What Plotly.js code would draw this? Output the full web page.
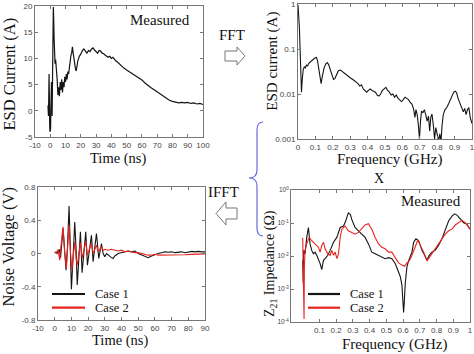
<!DOCTYPE html>
<html><head><meta charset="utf-8">
<script src="https://cdn.plot.ly/plotly-3.0.1.min.js"></script>
<style>html,body{margin:0;padding:0;background:#fff}#chart{width:474px;height:354px}</style>
</head><body><div id="chart"></div>
<script>
// ---- Data ----
// Top-left: measured ESD current (A) vs time (ns)
const esdTime = [-1.5,-1.2,-1.0,-0.8,-0.6,-0.4,-0.2,0,0.2,0.4,0.6,0.8,1.0,1.2,1.4,1.6,1.8,2.0,2.2,2.5,2.8,3.1,3.5,4.0,4.5,5.0,5.5,6.0,6.5,7.0,7.5,8,8.5,9,9.5,10,10.5,11,11.5,12,12.5,13,13.5,14,14.5,15,15.5,16,16.5,17,17.5,18,19,20,21,22,23,24,25,26,27,28,29,30,31,32,33,34,35,36,37,38,39,40,41,42,43,44,45,46,48,50,52,54,56,58,60,62,64,66,68,70,72,74,76,78,80,82,84,86,88,90,92,94,96,98,100];
const esdCurrent = [1.0,-1.0,2.5,7.0,3.0,-2.5,-4.0,-3.0,-3.5,0.5,3.5,5.5,2.0,-1.0,4.0,11.0,17.0,19.8,18.0,14.0,10.5,9.0,9.8,8.5,6.0,3.0,4.5,2.8,5.5,4.0,6.0,3.5,5.5,4.5,6.5,5.5,7.0,6.0,7.5,7.0,8.5,9.5,10.5,11.0,12.2,11.0,9.8,8.8,8.0,7.6,8.5,9.5,10.4,10.8,11.5,11.8,11.4,11.0,11.5,11.3,11.8,12.0,11.6,11.3,11.0,11.5,11.4,11.0,10.9,10.6,10.3,10.2,10.4,10.0,10.2,9.8,9.5,9.3,9.0,8.6,8.2,7.8,7.4,7.0,6.7,6.3,5.9,5.3,4.8,4.4,4.0,3.6,3.2,2.8,2.4,2.0,1.8,1.6,1.5,1.6,1.5,1.6,1.4,1.5,1.3,1.4,1.2];

// Top-right: ESD current spectrum (A) vs frequency (GHz)
const fftFreq = [0.000,0.004,0.008,0.012,0.016,0.020,0.024,0.030,0.036,0.042,0.048,0.055,0.062,0.070,0.080,0.090,0.100,0.106,0.112,0.120,0.126,0.133,0.140,0.150,0.160,0.168,0.176,0.186,0.196,0.204,0.212,0.222,0.232,0.244,0.256,0.270,0.285,0.300,0.315,0.330,0.345,0.355,0.365,0.375,0.385,0.395,0.405,0.415,0.425,0.435,0.445,0.455,0.465,0.475,0.485,0.495,0.505,0.515,0.525,0.535,0.545,0.555,0.565,0.575,0.585,0.595,0.605,0.615,0.625,0.635,0.645,0.655,0.665,0.672,0.678,0.685,0.692,0.698,0.704,0.710,0.718,0.726,0.734,0.742,0.750,0.757,0.763,0.770,0.778,0.785,0.792,0.800,0.808,0.815,0.822,0.828,0.835,0.845,0.855,0.865,0.875,0.885,0.895,0.905,0.912,0.920,0.930,0.940,0.950,0.958,0.966,0.974,0.982,0.990,1.000];
const fftCurrent = [0.95,0.6,0.3,0.1,0.03,0.011,0.02,0.035,0.040,0.038,0.044,0.042,0.048,0.052,0.055,0.060,0.064,0.065,0.055,0.035,0.024,0.017,0.025,0.038,0.047,0.050,0.045,0.035,0.027,0.021,0.022,0.028,0.033,0.034,0.031,0.028,0.026,0.023,0.021,0.019,0.017,0.015,0.016,0.013,0.012,0.011,0.012,0.013,0.012,0.0115,0.011,0.0095,0.009,0.010,0.012,0.013,0.014,0.012,0.011,0.0095,0.010,0.0085,0.0095,0.008,0.0072,0.0068,0.0075,0.0085,0.008,0.0075,0.0065,0.006,0.0045,0.003,0.0045,0.0035,0.002,0.001,0.0025,0.0042,0.0038,0.0045,0.0035,0.0025,0.0032,0.0015,0.003,0.0036,0.002,0.001,0.0018,0.0012,0.0009,0.0013,0.0009,0.002,0.0035,0.0045,0.005,0.006,0.0075,0.0095,0.011,0.0115,0.0105,0.008,0.0062,0.0052,0.004,0.0048,0.0035,0.0045,0.005,0.003,0.0022];

// Bottom-left: noise voltage (V) vs time (ns)
const noiseTime1 = [0,1,2,2.8,3.5,4.2,5.0,5.9,6.8,7.7,8.6,9.3,10.0,11.0,12.0,12.8,13.5,14.5,15.4,16.4,17.5,18.6,19.6,20.8,22.0,23.0,24.0,25.0,26.4,27.2,28.0,29.0,30.0,31,32,33,34,35,36,38,40,42,44,46,48,50,52,54,56,58,60,62,64,66,68,70,72,74,76,78,80,82,84,86,88,90];
const noiseCase1 = [0.01,0.02,0.0,0.05,-0.05,0.1,0.30,0.05,-0.2,0.1,0.57,0.1,-0.43,-0.05,0.38,0.05,-0.38,-0.05,0.26,-0.23,0.0,0.26,-0.14,0.02,0.22,-0.10,0.05,0.24,-0.06,0.02,0.12,0.0,-0.04,0.0,-0.02,-0.03,-0.05,-0.06,-0.03,0.0,0.01,0.02,0.03,0.02,0.03,0.0,-0.02,-0.04,-0.05,-0.03,-0.01,0.0,0.01,0.02,0.015,0.02,0.01,0.015,0.02,0.01,0.02,0.025,0.02,0.025,0.02,0.02];
const noiseTime2 = [0,1,2,3,3.8,5.0,6.0,7.0,7.8,8.6,9.5,10.3,11.2,12.0,12.8,13.5,14.5,15.4,16.5,17.5,18.6,19.6,20.8,22.0,23.0,24.0,25.0,26.0,27.0,28.0,29,30,32,34,36,38,40,42,44,46,48,50,52,54,56,58,60,62,64,66,68,70,74,78,82,86,90];
const noiseCase2 = [0.02,0.0,0.05,-0.08,0.1,0.32,0.0,-0.18,0.1,0.34,0.0,-0.2,0.0,0.14,-0.05,-0.14,0.0,0.13,-0.06,0.05,0.15,-0.02,0.05,0.12,0.0,0.05,0.10,0.02,0.06,0.08,0.04,0.05,0.04,0.05,0.04,0.03,0.04,0.02,0.03,0.02,0.01,0.01,0.0,-0.01,-0.02,-0.02,-0.01,-0.02,-0.02,-0.015,-0.02,-0.02,-0.02,-0.015,-0.01,-0.01,-0.005];

// Bottom-right: Z21 impedance (ohm) vs frequency (GHz)
const zFreq1 = [0.000,0.003,0.006,0.014,0.024,0.034,0.044,0.054,0.064,0.074,0.084,0.094,0.104,0.114,0.124,0.134,0.150,0.164,0.184,0.204,0.224,0.244,0.257,0.273,0.285,0.293,0.313,0.333,0.353,0.373,0.393,0.413,0.433,0.453,0.473,0.493,0.513,0.533,0.553,0.569,0.583,0.593,0.603,0.607,0.613,0.623,0.633,0.653,0.663,0.677,0.693,0.703,0.713,0.729,0.743,0.756,0.772,0.792,0.812,0.832,0.852,0.872,0.892,0.908,0.922,0.942,0.962,0.982,1.000];
const zCase1 = [0.0074,0.0015,0.0148,0.0117,0.0366,0.073,0.0233,0.0148,0.0117,0.0131,0.0105,0.0083,0.0059,0.0039,0.0074,0.0083,0.0105,0.0148,0.026,0.0366,0.073,0.081,0.115,0.203,0.181,0.129,0.073,0.058,0.046,0.0366,0.0233,0.0131,0.0117,0.0105,0.0089,0.0083,0.0089,0.0083,0.0059,0.0037,0.0024,0.00134,0.000195,0.0004,0.0015,0.0047,0.0071,0.0131,0.026,0.033,0.029,0.021,0.0148,0.0105,0.0074,0.0105,0.0131,0.0148,0.021,0.033,0.058,0.115,0.161,0.19,0.173,0.129,0.102,0.091,0.065];
const zFreq2 = [0.000,0.002,0.004,0.006,0.008,0.010,0.014,0.024,0.038,0.054,0.074,0.094,0.104,0.114,0.124,0.134,0.150,0.164,0.174,0.184,0.194,0.204,0.214,0.224,0.234,0.253,0.273,0.293,0.313,0.333,0.353,0.373,0.393,0.413,0.433,0.453,0.473,0.493,0.513,0.533,0.553,0.573,0.593,0.609,0.623,0.637,0.653,0.673,0.689,0.703,0.723,0.743,0.756,0.772,0.792,0.812,0.832,0.852,0.872,0.892,0.912,0.932,0.952,0.972,0.992,1.000];
const zCase2 = [0.036,0.0024,0.0093,0.0015,0.000123,0.0047,0.0148,0.0233,0.0366,0.029,0.0233,0.0185,0.0131,0.021,0.026,0.0165,0.0117,0.0105,0.0148,0.0105,0.0131,0.0083,0.0117,0.0366,0.065,0.081,0.058,0.052,0.046,0.052,0.069,0.087,0.095,0.065,0.0366,0.0233,0.0185,0.0165,0.0131,0.0131,0.0089,0.0062,0.0053,0.0049,0.0062,0.0071,0.0105,0.021,0.031,0.021,0.0131,0.0071,0.0089,0.0117,0.0165,0.0233,0.031,0.046,0.058,0.065,0.087,0.102,0.12,0.102,0.076,0.065];

const linTicks1X = [-10,0,10,20,30,40,50,60,70,80,90,100];
const linTicks1Y = [-5,0,5,10,15,20];
const fftTickVals = [0.001,0.01,0.1,1];
const fftTickText = ['0.001','0.01','0.1','1'];
const freqTicks = [0,0.1,0.2,0.3,0.4,0.5,0.6,0.7,0.8,0.9,1];
const freqTickText = ['0','0.1','0.2','0.3','0.4','0.5','0.6','0.7','0.8','0.9','1'];
const noiseTicksX = [-10,0,10,20,30,40,50,60,70,80,90];
const noiseTicksXText = ['-10','0','10','20','30','40','50','60','70','80','90'];
const noiseTicksY = [-0.8,-0.4,0,0.4,0.8];
const noiseTicksYText = ['-0.8','-0.4','0','0.4','0.8'];
const zTickVals = [0.0001,0.001,0.01,0.1,1];
const zTickText = ['10<sup>-4</sup>','10<sup>-3</sup>','10<sup>-2</sup>','10<sup>-1</sup>','10<sup>0</sup>'];
const zFreqTicks = [0.1,0.2,0.3,0.4,0.5,0.6,0.7,0.8,0.9,1];
const zFreqTickText = ['0.1','0.2','0.3','0.4','0.5','0.6','0.7','0.8','0.9','1'];
const caseNames = ['Case 1','Case 2'];

// ---- Layout helpers ----
const W = 474, H = 354;
const PX = x => x / W, PY = y => 1 - y / H;
const serif = 'Liberation Serif, Times New Roman, serif';
const tickFont = {family: 'Liberation Sans, Arial, sans-serif', size: 8, color: '#444'};
const BLACK = '#151515', RED = '#e8231d';

function axis(dom, extra) {
  return Object.assign({
    domain: dom, showgrid: false, zeroline: false, showline: true, linecolor: '#777', linewidth: 1,
    mirror: 'ticks', ticks: 'inside', ticklen: 3, tickcolor: '#777', tickfont: tickFont, fixedrange: true,
    ticklabeloverflow: 'allow'
  }, extra);
}

const traces = [
  {x: esdTime, y: esdCurrent, xaxis: 'x', yaxis: 'y', mode: 'lines', line: {color: BLACK, width: 1.2}, showlegend: false},
  {x: fftFreq, y: fftCurrent, xaxis: 'x2', yaxis: 'y2', mode: 'lines', line: {color: BLACK, width: 1.1}, showlegend: false},
  {x: noiseTime1, y: noiseCase1, xaxis: 'x3', yaxis: 'y3', mode: 'lines', name: caseNames[0], line: {color: BLACK, width: 1.1}, showlegend: false},
  {x: noiseTime2, y: noiseCase2, xaxis: 'x3', yaxis: 'y3', mode: 'lines', name: caseNames[1], line: {color: RED, width: 1.1}, showlegend: false},
  {x: zFreq1, y: zCase1, xaxis: 'x4', yaxis: 'y4', mode: 'lines', name: caseNames[0], line: {color: BLACK, width: 1.1}, showlegend: false},
  {x: zFreq2, y: zCase2, xaxis: 'x4', yaxis: 'y4', mode: 'lines', name: caseNames[1], line: {color: RED, width: 1.1}, showlegend: false}
];

function path(pts, close) {
  return pts.map((p, i) => (i ? 'L' : 'M') + PX(p[0]).toFixed(5) + ',' + PY(p[1]).toFixed(5)).join(' ') + (close ? ' Z' : '');
}
const fftArrow = path([[225,51],[237,51],[237,47],[245,56],[237,65],[237,61],[225,61]], true);
const ifftArrow = path([[237,208],[226,208],[226,202],[216,213.5],[226,225],[226,219],[237,219]], true);
const q = (x, y) => PX(x).toFixed(5) + ',' + PY(y).toFixed(5);
const brace = 'M' + q(263,122) + ' Q' + q(257,122) + ' ' + q(257,130) + ' L' + q(257,170) +
  ' Q' + q(257,178) + ' ' + q(249,178) + ' Q' + q(257,178) + ' ' + q(257,186) + ' L' + q(257,228) +
  ' Q' + q(257,236) + ' ' + q(263,236);

function legLine(x0, x1, y, color) {
  return {type: 'line', xref: 'paper', yref: 'paper', x0: PX(x0), x1: PX(x1), y0: PY(y), y1: PY(y), line: {color: color, width: 2.2}};
}
function ann(text, x, y, size, extra) {
  return Object.assign({text: text, xref: 'paper', yref: 'paper', x: PX(x), y: PY(y), showarrow: false,
    font: {family: serif, size: size, color: '#111'}, xanchor: 'center', yanchor: 'middle'}, extra || {});
}

const layout = {
  width: W, height: H, margin: {l: 0, r: 0, t: 0, b: 0}, paper_bgcolor: '#fff', plot_bgcolor: '#fff', showlegend: false,
  xaxis: axis([PX(35), PX(203)], {anchor: 'y', range: [-10, 100], tickvals: linTicks1X, ticktext: linTicks1X.map(String)}),
  yaxis: axis([PY(137), PY(6)], {anchor: 'x', range: [-5, 20], tickvals: linTicks1Y, ticktext: linTicks1Y.map(String)}),
  xaxis2: axis([PX(298), PX(472)], {anchor: 'y2', range: [0, 1], tickvals: freqTicks, ticktext: freqTickText}),
  yaxis2: axis([PY(139), PY(4)], {anchor: 'x2', type: 'log', range: [-3, 0], tickvals: fftTickVals, ticktext: fftTickText}),
  xaxis3: axis([PX(38), PX(205)], {anchor: 'y3', range: [-10, 90], tickvals: noiseTicksX, ticktext: noiseTicksXText}),
  yaxis3: axis([PY(320), PY(187)], {anchor: 'x3', range: [-0.8, 0.8], tickvals: noiseTicksY, ticktext: noiseTicksYText}),
  xaxis4: axis([PX(291), PX(470)], {anchor: 'y4', range: [-0.07, 1], tickvals: zFreqTicks, ticktext: zFreqTickText}),
  yaxis4: axis([PY(322), PY(190)], {anchor: 'x4', type: 'log', range: [-4, 0], tickvals: zTickVals, ticktext: zTickText,
    tickfont: {family: 'Liberation Sans, Arial, sans-serif', size: 6.5, color: '#444'}}),
  shapes: [
    {type: 'path', xref: 'paper', yref: 'paper', path: fftArrow, line: {color: '#777', width: 1}, fillcolor: '#fff'},
    {type: 'path', xref: 'paper', yref: 'paper', path: ifftArrow, line: {color: '#777', width: 1}, fillcolor: '#fff'},
    {type: 'path', xref: 'paper', yref: 'paper', path: brace, line: {color: '#6a6ae0', width: 1.2}},
    legLine(52, 85, 294, BLACK), legLine(52, 85, 307.7, RED),
    legLine(308, 340, 294, BLACK), legLine(308, 340, 307.7, RED)
  ],
  annotations: [
    ann('Measured', 160, 20, 15),
    ann('Measured', 431, 201, 15),
    ann('FFT', 232, 35, 15),
    ann('IFFT', 223, 192, 15),
    ann('X', 378.5, 178.5, 14),
    ann('ESD Current (A)', 9, 74.5, 16.5, {textangle: -90}),
    ann('Time (ns)', 118, 158, 14.5),
    ann('ESD current (A)', 271.7, 61, 15, {textangle: -90}),
    ann('Frequency (GHz)', 389, 159, 15),
    ann('Noise Voltage (V)', 8.5, 247, 16.5, {textangle: -90}),
    ann('Time (ns)', 120, 340, 14.5),
    ann('Z<sub>21</sub> Impedance (Ω)', 270, 264, 14, {textangle: -90}),
    ann('Frequency (GHz)', 394.5, 344, 15),
    ann(caseNames[0], 92.7, 294, 12.5, {xanchor: 'left'}),
    ann(caseNames[1], 92.7, 307.7, 12.5, {xanchor: 'left'}),
    ann(caseNames[0], 348, 294, 12.5, {xanchor: 'left'}),
    ann(caseNames[1], 348, 307.7, 12.5, {xanchor: 'left'})
  ]
};

Plotly.newPlot('chart', traces, layout, {staticPlot: true, displayModeBar: false});
</script>
</body></html>
